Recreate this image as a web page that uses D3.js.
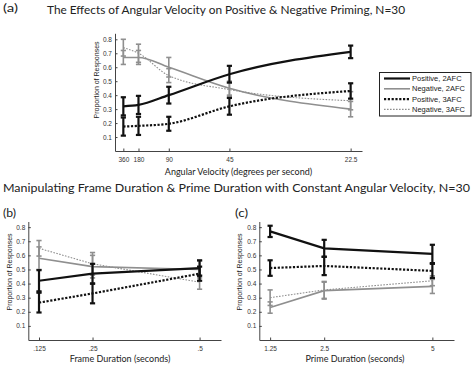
<!DOCTYPE html>
<html><head><meta charset="utf-8">
<script src="https://cdn.jsdelivr.net/npm/d3@7"></script>
<style>
html,body{margin:0;padding:0;background:#fff;}
svg{display:block;}
</style></head>
<body>
<script>
// ---------- DATA ----------
const seriesNames = ["Positive, 2AFC", "Negative, 2AFC", "Positive, 3AFC", "Negative, 3AFC"];
const yTicks = [0.1, 0.2, 0.3, 0.4, 0.5, 0.6, 0.7, 0.8];

// Panel (a): angular velocity (deg/s); plotted by time per revolution (s)
const velLabels = ["360", "180", "90", "45", "22.5"];
const velPeriod = [1, 2, 4, 8, 16];
const aPos2 = [0.32, 0.33, 0.40, 0.55, 0.71];
const aPos2Err = [0.065, 0.065, 0.06, 0.06, 0.045];
const aNeg2 = [0.67, 0.67, 0.60, 0.45, 0.30];
const aNeg2Err = [0.05, 0.05, 0.07, 0.05, 0.055];
const aPos3 = [0.175, 0.18, 0.195, 0.32, 0.43];
const aPos3Err = [0.065, 0.065, 0.05, 0.06, 0.055];
const aNeg3 = [0.74, 0.70, 0.54, 0.44, 0.36];
const aNeg3Err = [0.06, 0.065, 0.05, 0.05, 0.065];

// Panel (b): frame duration (s)
const frameDur = [0.125, 0.25, 0.5];
const frameLabels = [".125", ".25", ".5"];
const bPos2 = [0.42, 0.47, 0.51];
const bPos2Err = [0.075, 0.07, 0.055];
const bNeg2 = [0.58, 0.52, 0.50];
const bNeg2Err = [0.08, 0.08, 0.06];
const bPos3 = [0.265, 0.33, 0.47];
const bPos3Err = [0.07, 0.07, 0.05];
const bNeg3 = [0.65, 0.54, 0.41];
const bNeg3Err = [0.055, 0.08, 0.05];

// Panel (c): prime duration (s)
const primeDur = [1.25, 2.5, 5];
const primeLabels = ["1.25", "2.5", "5"];
const cPos2 = [0.77, 0.65, 0.61];
const cPos2Err = [0.04, 0.06, 0.065];
const cNeg2 = [0.23, 0.35, 0.38];
const cNeg2Err = [0.04, 0.06, 0.05];
const cPos3 = [0.51, 0.525, 0.49];
const cPos3Err = [0.055, 0.065, 0.05];
const cNeg3 = [0.30, 0.355, 0.42];
const cNeg3Err = [0.055, 0.06, 0.035];

// ---------- STYLE ----------
const GRAY = "#8f8f8f";
const styles = {
  "Positive, 2AFC": {color: "#111", width: 2.2, dash: null, ew: 2.2},
  "Negative, 2AFC": {color: GRAY, width: 1.6, dash: null, ew: 1.6},
  "Positive, 3AFC": {color: "#111", width: 2.2, dash: "2.2,1.6", ew: 2.2},
  "Negative, 3AFC": {color: GRAY, width: 1.1, dash: "1.6,1.4", ew: 1.6}
};
const drawOrder = ["Negative, 3AFC", "Negative, 2AFC", "Positive, 3AFC", "Positive, 2AFC"];

const W = 474, H = 369;
const svg = d3.select("body").append("svg").attr("width", W).attr("height", H);
const TITLE_FONT = "Lato, 'Open Sans', sans-serif";
const TICK_FONT = "'Liberation Sans', Arial, sans-serif";

function panel(cfg) {
  const x = cfg.xScale, y = cfg.yScale;
  const g = svg.append("g");
  // axes
  const yAxis = d3.axisLeft(y).tickValues(yTicks).tickFormat(d3.format(".1f")).tickSizeInner(-2.5).tickSizeOuter(0).tickPadding(3);
  const xAxis = d3.axisBottom(x).tickValues(cfg.xVals).tickFormat((d, i) => cfg.xLabels[i]).tickSizeInner(-2.5).tickSizeOuter(0).tickPadding(6);
  const ya = g.append("g").attr("transform", `translate(${x.range()[0]},0)`).call(yAxis);
  const xa = g.append("g").attr("transform", `translate(0,${y.range()[0]})`).call(xAxis);
  [ya, xa].forEach(a => {
    a.select(".domain").attr("stroke", "#444").attr("stroke-width", 1);
    a.selectAll(".tick line").attr("stroke", "#444");
    a.selectAll(".tick text").attr("fill", "#333").style("font-family", TICK_FONT).style("font-size", "6.5px");
  });
  // labels
  g.append("text").attr("x", cfg.xLabelX).attr("y", cfg.xLabelY).attr("text-anchor", "middle")
    .style("font-family", TITLE_FONT).style("font-size", "9px").attr("fill", "#222").text(cfg.xTitle);
  g.append("text").attr("transform", `translate(${cfg.yLabelX},${cfg.yLabelY}) rotate(-90)`).attr("text-anchor", "middle")
    .style("font-family", TICK_FONT).style("font-size", "7px").attr("fill", "#222").text("Proportion of Responses");

  const line = d3.line().x(d => x(d.x)).y(d => y(d.v)).curve(cfg.curve);
  const capHalf = 2.6;
  drawOrder.forEach(name => {
    const st = styles[name];
    const vals = cfg.data[name].v, errs = cfg.data[name].e;
    const pts = cfg.xVals.map((xv, i) => ({x: xv, v: vals[i], e: errs[i]}));
    g.append("path").datum(pts).attr("d", line).attr("fill", "none")
      .attr("stroke", st.color).attr("stroke-width", st.width)
      .attr("stroke-dasharray", st.dash);
    const eb = g.append("g");
    pts.forEach(p => {
      const cx = x(p.x), y1 = y(p.v + p.e), y2 = y(p.v - p.e);
      eb.append("line").attr("x1", cx).attr("x2", cx).attr("y1", y1).attr("y2", y2)
        .attr("stroke", st.color).attr("stroke-width", st.ew);
      [y1, y2].forEach(yy => eb.append("line").attr("x1", cx - capHalf).attr("x2", cx + capHalf)
        .attr("y1", yy).attr("y2", yy).attr("stroke", st.color).attr("stroke-width", st.ew));
    });
  });
}

// Titles
function title(txt, x, y, len, size) {
  const t = svg.append("text").attr("x", x).attr("y", y).style("font-family", TITLE_FONT)
    .style("font-size", size + "px").attr("fill", "#222").text(txt);
  if (len) t.attr("textLength", len).attr("lengthAdjust", "spacingAndGlyphs");
}
title("(a)", 3, 12, 15, 11);
title("The Effects of Angular Velocity on Positive & Negative Priming, N=30", 47, 14, 358, 12);
title("Manipulating Frame Duration & Prime Duration with Constant Angular Velocity, N=30", 3, 192, 467, 12);
title("(b)", 3, 217, 13, 11);
title("(c)", 235, 217, 13, 11);

// Panel (a)
panel({
  xScale: d3.scaleLinear().domain([0.45, 16.75]).range([115, 362]),
  yScale: d3.scaleLinear().domain([0, 0.843]).range([151, 33.3]),
  xVals: velPeriod, xLabels: velLabels,
  xTitle: "Angular Velocity (degrees per second)", xLabelX: 238.5, xLabelY: 175,
  yLabelX: 99, yLabelY: 80,
  curve: d3.curveMonotoneX,
  data: {
    "Positive, 2AFC": {v: aPos2, e: aPos2Err},
    "Negative, 2AFC": {v: aNeg2, e: aNeg2Err},
    "Positive, 3AFC": {v: aPos3, e: aPos3Err},
    "Negative, 3AFC": {v: aNeg3, e: aNeg3Err}
  }
});

// Panel (b)
panel({
  xScale: d3.scaleLinear().domain([0.1, 0.55]).range([28.3, 221]),
  yScale: d3.scaleLinear().domain([0, 0.84]).range([340, 221.5]),
  xVals: frameDur, xLabels: frameLabels,
  xTitle: "Frame Duration (seconds)", xLabelX: 120, xLabelY: 362,
  yLabelX: 12, yLabelY: 272,
  curve: d3.curveLinear,
  data: {
    "Positive, 2AFC": {v: bPos2, e: bPos2Err},
    "Negative, 2AFC": {v: bNeg2, e: bNeg2Err},
    "Positive, 3AFC": {v: bPos3, e: bPos3Err},
    "Negative, 3AFC": {v: bNeg3, e: bNeg3Err}
  }
});

// Panel (c)
panel({
  xScale: d3.scaleLinear().domain([1, 5.5]).range([259.3, 454]),
  yScale: d3.scaleLinear().domain([0, 0.84]).range([340, 221.5]),
  xVals: primeDur, xLabels: primeLabels,
  xTitle: "Prime Duration (seconds)", xLabelX: 355, xLabelY: 362,
  yLabelX: 242, yLabelY: 272,
  curve: d3.curveLinear,
  data: {
    "Positive, 2AFC": {v: cPos2, e: cPos2Err},
    "Negative, 2AFC": {v: cNeg2, e: cNeg2Err},
    "Positive, 3AFC": {v: cPos3, e: cPos3Err},
    "Negative, 3AFC": {v: cNeg3, e: cNeg3Err}
  }
});

// Legend
const lg = svg.append("g");
lg.append("rect").attr("x", 379.5).attr("y", 72.5).attr("width", 91.5).attr("height", 43.5)
  .attr("fill", "#fff").attr("stroke", "#222").attr("stroke-width", 1);
seriesNames.forEach((name, i) => {
  const st = styles[name];
  const yy = 78.5 + i * 10.3;
  lg.append("line").attr("x1", 384).attr("x2", 410).attr("y1", yy).attr("y2", yy)
    .attr("stroke", st.color).attr("stroke-width", st.width).attr("stroke-dasharray", st.dash);
  lg.append("text").attr("x", 412).attr("y", yy + 2.6).style("font-family", TICK_FONT)
    .style("font-size", "7.5px").attr("fill", "#222").text(name);
});
</script>
</body></html>
